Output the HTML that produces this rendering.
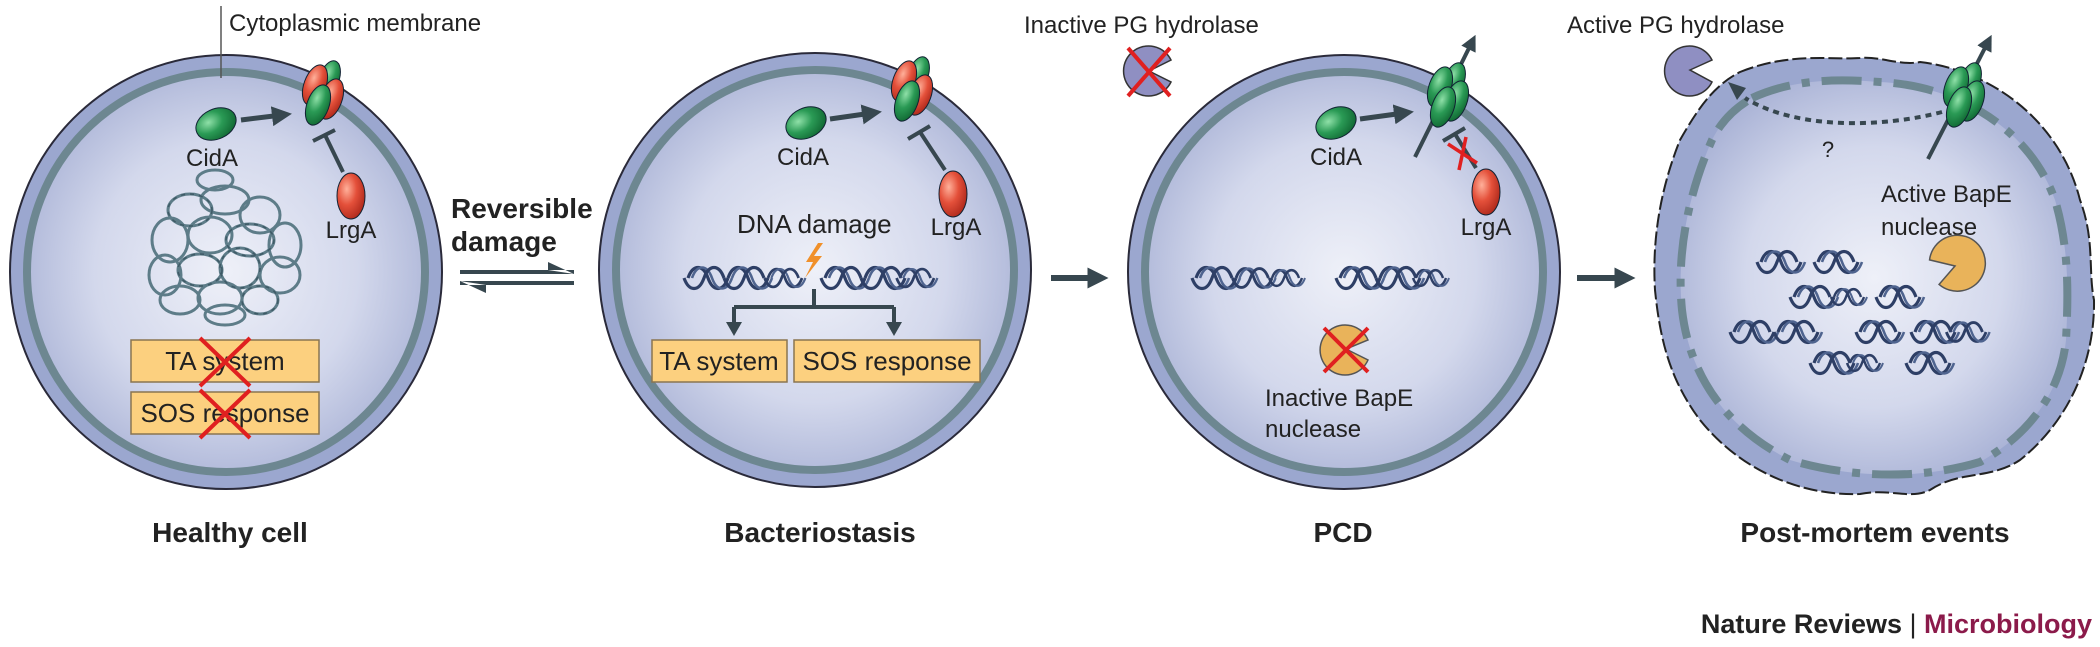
<!DOCTYPE html>
<html><head><meta charset="utf-8"><style>
body{margin:0;background:#fff}
svg{display:block}
text{font-family:"Liberation Sans Narrow","Liberation Sans",sans-serif;fill:#222}
.b{font-weight:bold}
</style></head><body>
<svg width="2100" height="647" viewBox="0 0 2100 647" xmlns="http://www.w3.org/2000/svg">
<defs>
<radialGradient id="cin" cx="0.5" cy="0.5" r="0.55">
<stop offset="0" stop-color="#eef0f8"/><stop offset="0.6" stop-color="#d3d8ec"/><stop offset="1" stop-color="#aab3d6"/>
</radialGradient>
<radialGradient id="gr" cx="0.35" cy="0.35" r="0.7"><stop offset="0" stop-color="#8fe0a8"/><stop offset="0.5" stop-color="#2a9a55"/><stop offset="1" stop-color="#126b35"/></radialGradient>
<radialGradient id="rd" cx="0.35" cy="0.35" r="0.7"><stop offset="0" stop-color="#ffb09a"/><stop offset="0.5" stop-color="#e4503a"/><stop offset="1" stop-color="#b02a1c"/></radialGradient>
<marker id="ah" viewBox="0 0 10 10" refX="5" refY="5" markerWidth="4" markerHeight="4" orient="auto"><path d="M0,0 L10,5 L0,10 z" fill="#37474f"/></marker>
<marker id="ah2" viewBox="0 0 10 10" refX="5" refY="5" markerWidth="3.5" markerHeight="3.5" orient="auto"><path d="M0,0 L10,5 L0,10 z" fill="#37474f"/></marker>
<symbol id="hx" viewBox="0 0 40 24" overflow="visible">
<path d="M0,12 C5,-2 15,-2 20,12 S35,26 40,12" fill="none" stroke="#2e3f66" stroke-width="3.2"/>
<path d="M4,12 C9,-2 19,-2 24,12 S39,26 44,12" fill="none" stroke="#4f648f" stroke-width="2.6"/>
<path d="M-4,12 C1,26 11,26 16,12 S31,-2 36,12" fill="none" stroke="#2e3f66" stroke-width="3.2"/>
</symbol>
<g id="cxRG">
<ellipse cx="8" cy="-14" rx="10" ry="19" fill="url(#gr)" stroke="#123" stroke-width="1" transform="rotate(20 8 -14)"/>
<ellipse cx="-6" cy="-8" rx="11" ry="21" fill="url(#rd)" stroke="#123" stroke-width="1" transform="rotate(20 -6 -8)"/>
<ellipse cx="10" cy="6" rx="11" ry="21" fill="url(#rd)" stroke="#123" stroke-width="1" transform="rotate(20 10 6)"/>
<ellipse cx="-3" cy="12" rx="11" ry="21" fill="url(#gr)" stroke="#123" stroke-width="1" transform="rotate(20 -3 12)"/>
</g>
<g id="cxG">
<ellipse cx="8" cy="-14" rx="10" ry="19" fill="url(#gr)" stroke="#123" stroke-width="1" transform="rotate(20 8 -14)"/>
<ellipse cx="-6" cy="-8" rx="11" ry="21" fill="url(#gr)" stroke="#123" stroke-width="1" transform="rotate(20 -6 -8)"/>
<ellipse cx="10" cy="6" rx="11" ry="21" fill="url(#gr)" stroke="#123" stroke-width="1" transform="rotate(20 10 6)"/>
<ellipse cx="-3" cy="12" rx="11" ry="21" fill="url(#gr)" stroke="#123" stroke-width="1" transform="rotate(20 -3 12)"/>
</g>
</defs>

<!-- Cell 1 -->
<ellipse cx="226" cy="272" rx="216" ry="217" fill="#9ba7cf" stroke="#2a2a3a" stroke-width="2"/>
<ellipse cx="226" cy="272" rx="199" ry="200" fill="url(#cin)" stroke="#6d8791" stroke-width="8"/>
<!-- Cell 2 -->
<ellipse cx="815" cy="270" rx="216" ry="217" fill="#9ba7cf" stroke="#2a2a3a" stroke-width="2"/>
<ellipse cx="815" cy="270" rx="199" ry="200" fill="url(#cin)" stroke="#6d8791" stroke-width="8"/>
<!-- Cell 3 -->
<ellipse cx="1344" cy="272" rx="216" ry="217" fill="#9ba7cf" stroke="#2a2a3a" stroke-width="2"/>
<ellipse cx="1344" cy="272" rx="199" ry="200" fill="url(#cin)" stroke="#6d8791" stroke-width="8"/>
<!-- Cell 4 blob -->
<path d="M1740,72 C1790,52 1830,60 1860,58 C1880,56 1900,66 1920,62 C1990,70 2060,120 2080,200 C2095,240 2088,270 2094,300 C2095,360 2070,420 2020,460 C1990,480 1960,470 1930,490 C1910,500 1890,488 1860,494 C1800,496 1740,470 1700,420 C1670,380 1660,340 1655,290 C1652,240 1660,190 1680,140 C1700,105 1715,85 1740,72 Z" fill="#9ba7cf" stroke="#222" stroke-width="2" stroke-dasharray="14 4"/>
<path d="M1752,98 C1800,76 1850,80 1880,82 C1960,86 2030,130 2055,200 C2070,250 2068,300 2066,340 C2060,400 2020,440 1980,462 C1920,480 1850,478 1790,460 C1730,430 1690,380 1682,310 C1676,250 1690,190 1712,140 C1722,120 1735,108 1752,98 Z" fill="url(#cin)" stroke="#6d8791" stroke-width="8" stroke-dasharray="40 12 8 12"/>

<!-- Cytoplasmic membrane label -->
<line x1="221" y1="6" x2="221" y2="78" stroke="#555" stroke-width="1.5"/>
<text x="229" y="31" font-size="24">Cytoplasmic membrane</text>

<!-- Cell 1 contents -->
<use href="#cxRG" x="321" y="93"/>
<ellipse cx="216" cy="124" rx="21" ry="15" fill="url(#gr)" stroke="#123" transform="rotate(-25 216 124)"/>
<line x1="241" y1="120" x2="282" y2="115" stroke="#37474f" stroke-width="5" marker-end="url(#ah)"/>
<text x="212" y="166" font-size="24" text-anchor="middle">CidA</text>
<ellipse cx="351" cy="196" rx="14" ry="23" fill="url(#rd)" stroke="#123"/>
<line x1="343" y1="172" x2="325" y2="135" stroke="#37474f" stroke-width="4"/>
<line x1="313" y1="141" x2="335" y2="130" stroke="#37474f" stroke-width="4"/>
<text x="351" y="238" font-size="24" text-anchor="middle">LrgA</text>
<g fill="none" stroke="#5d7c88" stroke-width="3">
<ellipse cx="190" cy="210" rx="22" ry="16"/><ellipse cx="225" cy="200" rx="24" ry="14"/><ellipse cx="260" cy="215" rx="20" ry="18"/>
<ellipse cx="170" cy="240" rx="18" ry="22"/><ellipse cx="210" cy="235" rx="22" ry="18"/><ellipse cx="250" cy="240" rx="24" ry="16"/><ellipse cx="285" cy="245" rx="16" ry="22"/>
<ellipse cx="165" cy="275" rx="16" ry="20"/><ellipse cx="200" cy="270" rx="22" ry="16"/><ellipse cx="240" cy="268" rx="20" ry="20"/><ellipse cx="280" cy="275" rx="20" ry="18"/>
<ellipse cx="180" cy="300" rx="20" ry="14"/><ellipse cx="220" cy="298" rx="22" ry="16"/><ellipse cx="260" cy="300" rx="18" ry="14"/>
<ellipse cx="215" cy="180" rx="18" ry="10"/><ellipse cx="225" cy="315" rx="20" ry="10"/>
</g>
<g fill="none" stroke="#3e5a66" stroke-width="1.5" stroke-dasharray="4 5">
<ellipse cx="190" cy="210" rx="22" ry="16"/><ellipse cx="250" cy="240" rx="24" ry="16"/><ellipse cx="200" cy="270" rx="22" ry="16"/><ellipse cx="260" cy="300" rx="18" ry="14"/><ellipse cx="240" cy="268" rx="20" ry="20"/>
</g>
<rect x="131" y="340" width="188" height="42" fill="#fcd07f" stroke="#8a7550" stroke-width="1.5"/>
<text x="225" y="370" font-size="26" text-anchor="middle">TA system</text>
<rect x="131" y="392" width="188" height="42" fill="#fcd07f" stroke="#8a7550" stroke-width="1.5"/>
<text x="225" y="422" font-size="26" text-anchor="middle">SOS response</text>
<g stroke="#e02020" stroke-width="4"><line x1="200" y1="338" x2="250" y2="386"/><line x1="250" y1="338" x2="200" y2="386"/><line x1="200" y1="390" x2="250" y2="438"/><line x1="250" y1="390" x2="200" y2="438"/></g>

<!-- Reversible damage -->
<text x="451" y="218" font-size="28" class="b">Reversible</text>
<text x="451" y="251" font-size="28" class="b">damage</text>
<path d="M460,270 L574,270 L574,274 L460,274 Z M574,274 L548,262 L548,270 Z" fill="#37474f"/>
<path d="M460,281 L574,281 L574,285 L460,285 Z M460,281 L486,293 L486,285 Z" fill="#37474f"/>

<!-- Cell 2 contents -->
<use href="#cxRG" x="910" y="89"/>
<ellipse cx="806" cy="123" rx="21" ry="15" fill="url(#gr)" stroke="#123" transform="rotate(-25 806 123)"/>
<line x1="830" y1="119" x2="872" y2="113" stroke="#37474f" stroke-width="5" marker-end="url(#ah)"/>
<text x="803" y="165" font-size="24" text-anchor="middle">CidA</text>
<ellipse cx="953" cy="194" rx="14" ry="23" fill="url(#rd)" stroke="#123"/>
<line x1="945" y1="170" x2="920" y2="132" stroke="#37474f" stroke-width="4"/>
<line x1="908" y1="139" x2="930" y2="126" stroke="#37474f" stroke-width="4"/>
<text x="956" y="235" font-size="24" text-anchor="middle">LrgA</text>
<text x="737" y="233" font-size="26">DNA damage</text>
<path d="M818,243 L806,262 L813,262 L805,278 L822,256 L814,256 L823,243 Z" fill="#f0902a"/>
<use href="#hx" x="688" y="266" width="40" height="24"/><use href="#hx" x="728" y="266" width="40" height="24"/><use href="#hx" x="768" y="266" width="34" height="24"/>
<use href="#hx" x="825" y="266" width="40" height="24"/><use href="#hx" x="865" y="266" width="40" height="24"/><use href="#hx" x="900" y="266" width="34" height="24"/>
<path d="M814,289 L814,307 M734,307 L894,307 M734,307 L734,326 M894,307 L894,326" stroke="#37474f" stroke-width="4" fill="none"/>
<path d="M726,322 L742,322 L734,336 Z M886,322 L902,322 L894,336 Z" fill="#37474f"/>
<rect x="652" y="340" width="135" height="42" fill="#fcd07f" stroke="#8a7550" stroke-width="1.5"/>
<text x="719" y="370" font-size="26" text-anchor="middle">TA system</text>
<rect x="794" y="340" width="186" height="42" fill="#fcd07f" stroke="#8a7550" stroke-width="1.5"/>
<text x="887" y="370" font-size="26" text-anchor="middle">SOS response</text>

<!-- arrow 2->3 -->
<line x1="1051" y1="278" x2="1098" y2="278" stroke="#37474f" stroke-width="6" marker-end="url(#ah2)"/>

<!-- Inactive PG hydrolase -->
<text x="1024" y="33" font-size="24">Inactive PG hydrolase</text>
<path d="M1149,71 L1171,60 A25,25 0 1 0 1171,82 Z" fill="#8f8fc2" stroke="#333" stroke-width="1.5"/>
<g stroke="#e02020" stroke-width="4"><line x1="1128" y1="48" x2="1170" y2="96"/><line x1="1170" y1="48" x2="1128" y2="96"/></g>

<!-- Cell 3 contents -->
<line x1="1415" y1="157" x2="1472" y2="42" stroke="#37474f" stroke-width="4" marker-end="url(#ah)"/>
<use href="#cxG" x="1446" y="95"/>
<ellipse cx="1336" cy="123" rx="21" ry="15" fill="url(#gr)" stroke="#123" transform="rotate(-25 1336 123)"/>
<line x1="1360" y1="119" x2="1404" y2="113" stroke="#37474f" stroke-width="5" marker-end="url(#ah)"/>
<text x="1336" y="165" font-size="24" text-anchor="middle">CidA</text>
<ellipse cx="1486" cy="192" rx="14" ry="23" fill="url(#rd)" stroke="#123"/>
<line x1="1476" y1="168" x2="1455" y2="134" stroke="#37474f" stroke-width="4"/>
<line x1="1443" y1="141" x2="1465" y2="128" stroke="#37474f" stroke-width="4"/>
<g stroke="#e02020" stroke-width="3.5"><line x1="1448" y1="144" x2="1477" y2="163"/><line x1="1466" y1="137" x2="1459" y2="170"/></g>
<text x="1486" y="235" font-size="24" text-anchor="middle">LrgA</text>
<use href="#hx" x="1196" y="266" width="40" height="24"/><use href="#hx" x="1236" y="266" width="36" height="24"/><use href="#hx" x="1272" y="266" width="30" height="24"/>
<use href="#hx" x="1340" y="266" width="40" height="24"/><use href="#hx" x="1380" y="266" width="40" height="24"/><use href="#hx" x="1416" y="266" width="30" height="24"/>
<path d="M1346,349 L1368,340 A25,25 0 1 0 1368,360 Z" fill="#e9b35a" stroke="#555" stroke-width="1.5"/>
<g stroke="#e02020" stroke-width="4"><line x1="1324" y1="328" x2="1368" y2="372"/><line x1="1368" y1="328" x2="1324" y2="372"/></g>
<text x="1265" y="406" font-size="24">Inactive BapE</text>
<text x="1265" y="437" font-size="24">nuclease</text>

<!-- arrow 3->4 -->
<line x1="1577" y1="278" x2="1625" y2="278" stroke="#37474f" stroke-width="6" marker-end="url(#ah2)"/>

<!-- Cell 4 contents -->
<text x="1567" y="33" font-size="24">Active PG hydrolase</text>
<path d="M1690,70 L1712,60 A25,25 0 1 0 1712,82 Z" fill="#8f8fc2" stroke="#333" stroke-width="1.5"/>
<path d="M1942,112 C1890,126 1800,132 1745,98" fill="none" stroke="#37474f" stroke-width="4" stroke-dasharray="6 5"/>
<path d="M1728,82 L1746,88 L1737,100 Z" fill="#37474f"/>
<line x1="1928" y1="159" x2="1988" y2="42" stroke="#37474f" stroke-width="4" marker-end="url(#ah)"/>
<use href="#cxG" x="1962" y="95"/>
<text x="1828" y="157" font-size="22" text-anchor="middle">?</text>
<text x="1881" y="202" font-size="24">Active BapE</text>
<text x="1881" y="235" font-size="24">nuclease</text>
<path d="M1955,266 L1932,274 A28,28 0 1 0 1936,248 Z" fill="#e9b35a" stroke="#555" stroke-width="1.5" transform="rotate(-30 1955 266)"/>
<use href="#hx" x="1761" y="250" width="40" height="24"/><use href="#hx" x="1818" y="250" width="40" height="24"/>
<use href="#hx" x="1794" y="285" width="40" height="24"/><use href="#hx" x="1834" y="285" width="30" height="24"/><use href="#hx" x="1880" y="285" width="40" height="24"/>
<use href="#hx" x="1734" y="320" width="40" height="24"/><use href="#hx" x="1778" y="320" width="40" height="24"/><use href="#hx" x="1860" y="320" width="40" height="24"/><use href="#hx" x="1915" y="320" width="40" height="24"/><use href="#hx" x="1950" y="320" width="36" height="24"/>
<use href="#hx" x="1814" y="351" width="40" height="24"/><use href="#hx" x="1850" y="351" width="30" height="24"/><use href="#hx" x="1910" y="351" width="40" height="24"/>

<!-- Labels -->
<text x="230" y="542" font-size="28" class="b" text-anchor="middle">Healthy cell</text>
<text x="820" y="542" font-size="28" class="b" text-anchor="middle">Bacteriostasis</text>
<text x="1343" y="542" font-size="28" class="b" text-anchor="middle">PCD</text>
<text x="1875" y="542" font-size="28" class="b" text-anchor="middle">Post-mortem events</text>
<text x="2092" y="633" font-size="27" class="b" text-anchor="end"><tspan>Nature Reviews </tspan><tspan style="font-weight:normal">|</tspan><tspan fill="#8b1a4a" style="fill:#8b1a4a"> Microbiology</tspan></text>
</svg>
</body></html>
